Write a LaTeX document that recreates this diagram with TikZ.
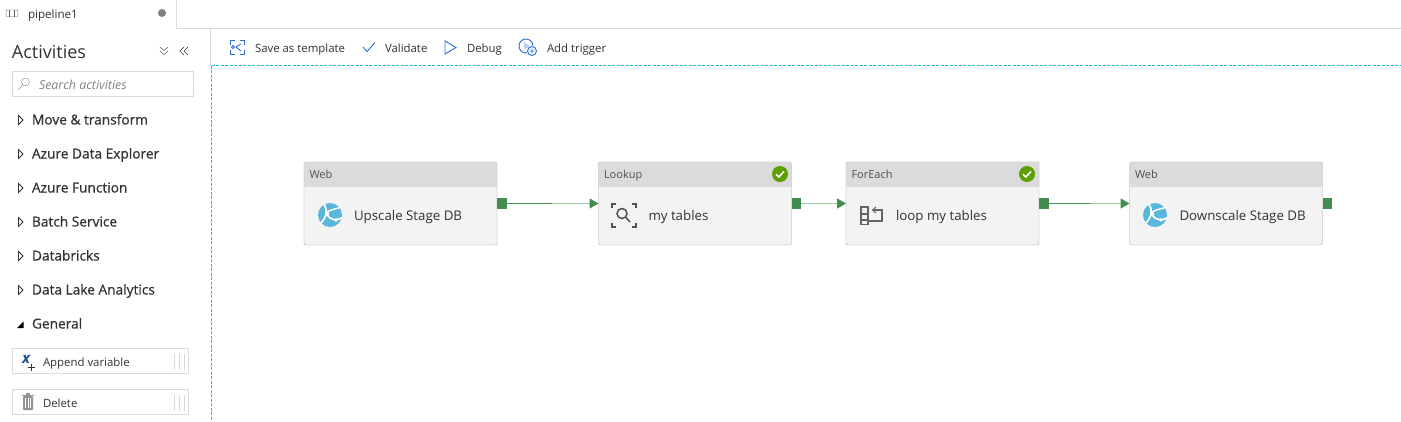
\documentclass[tikz,border=0pt]{standalone}
\usepackage{fontspec}
\setmainfont{Open Sans}
\newfontfamily\groupfont[FakeBold=0.7]{Open Sans}
\usetikzlibrary{positioning}
\usetikzlibrary{arrows.meta}
\definecolor{portGreen}{RGB}{67,140,80}
\definecolor{linkGreen}{RGB}{160,202,166}
\definecolor{headGray}{RGB}{219,219,219}
\definecolor{bodyGray}{RGB}{243,243,243}
\definecolor{edgeGray}{RGB}{200,200,200}
\definecolor{textGray}{RGB}{50,50,50}
\definecolor{azureBlue}{RGB}{43,110,214}
\definecolor{globeBlue}{RGB}{89,182,221}
\definecolor{okGreen}{RGB}{92,160,0}
\definecolor{dashBlue}{RGB}{40,185,230}
\newcommand\Activity[4]{%
  \node [activity] (#1) at (#2,203.5) {};
  \fill [headGray, rounded corners=2pt] (#1.north west) -- (#1.north east) -- ([yshift=-25pt]#1.north east) -- ([yshift=-25pt]#1.north west) -- cycle;
  \draw [edgeGray, rounded corners=2pt] (#1.north west) rectangle (#1.south east);
  \node [kind, anchor=base west] (#1kind) at ([xshift=5.5pt,yshift=-16.5pt]#1.north west) {#3};
  \node [title, anchor=base west] (#1title) at ([xshift=50pt,yshift=-16.5pt]#1.west) {#4};
  \node [port, right=0pt of #1] (#1port) {};
}
\newcommand\Group[3]{%
  \draw [textGray, line width=0.8pt, line join=miter] (18.5,#2-4.5) -- (18.5,#2+4.5) -- (23,#2) -- cycle;
  \node [group, anchor=base west] (#1) at (32,#2+4.5) {#3};
}
\newcommand\Grip[1]{%
  \foreach \gx in {174,179,184} \draw [edgeGray!70] (\gx,#1-8) -- (\gx,#1+8);
}
\newcommand\Globe[2]{%
  \begin{scope}[shift={(#1,#2)}]
    \fill [globeBlue] (0,0) circle (12);
    \draw [white, line width=1.7pt] (-6,-11) .. controls (-2,-5) and (-3,2) .. (-10,9);
    \draw [white, line width=1.5pt] (-3,-3) .. controls (2,-6) and (7,-6) .. (11,-8);
    \draw [white, line width=1.7pt] (-3,0) .. controls (1,5) and (6,6) .. (12,3);
    \fill [white] (-3,-1) circle (2.2);
    \fill [white] (6,5) circle (1.8);
  \end{scope}
}
\newcommand\Okay[1]{%
  \begin{scope}[shift={(#1,174)}]
    \fill [okGreen] (0,0) circle (8);
    \draw [white, line width=1.6pt] (-4,0.3) -- (-1.2,3) -- (4,-2.6);
  \end{scope}
}
\begin{document}
\begin{tikzpicture}[x=1pt,y=-1pt,
  every node/.style={text=textGray, inner sep=0pt, outer sep=0pt},
  activity/.style={draw=edgeGray, fill=bodyGray, rounded corners=2pt, minimum width=193pt, minimum height=83pt},
  kind/.style={font=\fontsize{11}{13}\selectfont, text=textGray!85},
  title/.style={font=\fontsize{13.3}{15}\selectfont},
  port/.style={fill=portGreen, minimum width=9.5pt, minimum height=11pt},
  link/.style={linkGreen, line width=1.2pt, -{Triangle[length=9pt,width=10pt,color=portGreen]}},
  group/.style={font=\fontsize{13.7}{15}\groupfont},
  tool/.style={font=\fontsize{11.4}{14}\selectfont},
  tile/.style={draw=headGray, minimum width=176pt, minimum height=25pt},
  icon/.style={azureBlue, line width=0.9pt},
]
\useasboundingbox (0,0) rectangle (1401,421);

% tab strip and frame lines
\draw [headGray] (176.5,0) -- (176.5,28.5) -- (1401,28.5);
\draw [headGray] (210.5,28.5) -- (210.5,65);
\draw [dashBlue, dash pattern=on 3pt off 1.5pt] (211.5,65.5) -- (1401,65.5);
\draw [dashBlue, dash pattern=on 3pt off 1.5pt] (211.5,65.5) -- (211.5,421);

% tab
\draw [textGray!80, rounded corners=1pt] (6,10) rectangle (18,16.5);
\draw [textGray!80] (9.5,10) -- (9.5,16.5) (14.5,10) -- (14.5,16.5);
\node [anchor=base west, font=\fontsize{11.6}{14}\selectfont] (tabname) at (28,18) {pipeline1};
\fill [gray] (162,13) circle (4);

% activities panel
\node [anchor=base west, font=\fontsize{18}{22}\selectfont] (panelname) at (12,58) {Activities};
\draw [textGray] (160,47) -- (164,50.5) -- (168,47) (160,51) -- (164,54.5) -- (168,51);
\draw [textGray] (184,47) -- (180,51) -- (184,55) (188,47) -- (184,51) -- (188,55);
\draw [gray!80, rounded corners=1pt] (12.5,71.5) rectangle (193.5,96.5);
\draw [gray] (25.5,82) circle (4) (22.5,85) -- (18.5,90);
\node [anchor=base west, font=\fontsize{12.4}{14}\selectfont\itshape, text=gray] (searchtext) at (39,89) {Search activities};
\Group{movegroup}{120}{Move \& transform}
\Group{explorergroup}{154}{Azure Data Explorer}
\Group{functiongroup}{188}{Azure Function}
\Group{batchgroup}{222}{Batch Service}
\Group{brickgroup}{256}{Databricks}
\Group{lakegroup}{290}{Data Lake Analytics}
\fill [black] (17,328) -- (23.5,328) -- (23.5,321.5) -- cycle;
\node [group, anchor=base west] (generalgroup) at (32,328.5) {General};

\node [tile, anchor=north west] (appendtile) at (12.5,348.5) {};
\node [anchor=base west, tool] (appendtext) at (43,366) {Append variable};
\node [anchor=center, text=azureBlue!70!black, font=\fontsize{15}{15}\selectfont\bfseries\itshape] (appendx) at (26,359) {x};
\draw [textGray] (28,367.5) -- (35,367.5) (31.5,364) -- (31.5,371);
\Grip{361.5}
\node [tile, anchor=north west] (deletetile) at (12.5,389.5) {};
\node [anchor=base west, tool] (deletetext) at (43,407) {Delete};
\fill [gray!85, rounded corners=1pt] (23,396) rectangle (33,410);
\fill [gray!85] (22,394.5) rectangle (34,396);
\fill [gray!85] (26,393) rectangle (30,395);
\foreach \bx in {25.5,28,30.5} \draw [white, line width=0.5pt] (\bx,398) -- (\bx,408);
\Grip{402.5}

% toolbar
\begin{scope}[icon]
  \draw (230,45) -- (230,40.5) -- (234.5,40.5) (240,40.5) -- (244.5,40.5) -- (244.5,45) (230,49.5) -- (230,54) -- (234.5,54) (240,54) -- (244.5,54) -- (244.5,49.5);
  \draw (233,47) circle (1.5) (236,47) -- (241,44) (236,47) -- (241,51);
  \draw (363,47) -- (367,51.5) -- (375,42.5);
  \draw (445,41) -- (445,54) -- (456,47.5) -- cycle;
  \draw (526,46) circle (7);
  \fill [azureBlue!35] (524,42.5) -- (524,49.5) -- (530,46) -- cycle;
  \fill [white] (532,51) circle (5.5);
  \draw (532,51) circle (4.5) (529.5,51) -- (534.5,51) (532,48.5) -- (532,53.5);
\end{scope}
\node [tool, anchor=base west] (savetext) at (255,52) {Save as template};
\node [tool, anchor=base west] (validatetext) at (385,52) {Validate};
\node [tool, anchor=base west] (debugtext) at (467,52) {Debug};
\node [tool, anchor=base west] (triggertext) at (547,52) {Add trigger};

% pipeline
\Activity{upscale}{400.5}{Web}{Upscale Stage DB}
\Activity{tables}{695}{Lookup}{my tables}
\Activity{loop}{942.5}{ForEach}{loop my tables}
\Activity{downscale}{1226}{Web}{Downscale Stage DB}

\draw [link] (upscaleport) -- (tables);
\draw [link] (tablesport) -- (loop);
\draw [link] (loopport) -- (downscale);
\draw [portGreen, line width=1pt] (507,203.5) -- (552,203.5);
\draw [portGreen, line width=1pt] (1049,203.5) -- (1090,203.5);

\Globe{330}{215}
\Globe{1155}{215}
\Okay{780}
\Okay{1027}

% lookup icon
\draw [textGray!85, line width=1.5pt] (612,208) -- (612,204) -- (616,204) (632,204) -- (636,204) -- (636,208) (612,223) -- (612,227) -- (616,227) (632,227) -- (636,227) -- (636,223);
\draw [textGray!85, line width=1.5pt] (622,213.5) circle (5) (625.5,217) -- (630,222);

% foreach icon
\draw [textGray!75, line width=1.5pt] (861,207) rectangle (868,214) (861,214) rectangle (868,220) (861,220) rectangle (868,224.5);
\draw [textGray!75, line width=1.5pt] (868,221) -- (882,221) -- (882,210) -- (873,210);
\draw [textGray!75, line width=1pt] (876,207) -- (872.5,210) -- (876,213);
\end{tikzpicture}
\end{document}
